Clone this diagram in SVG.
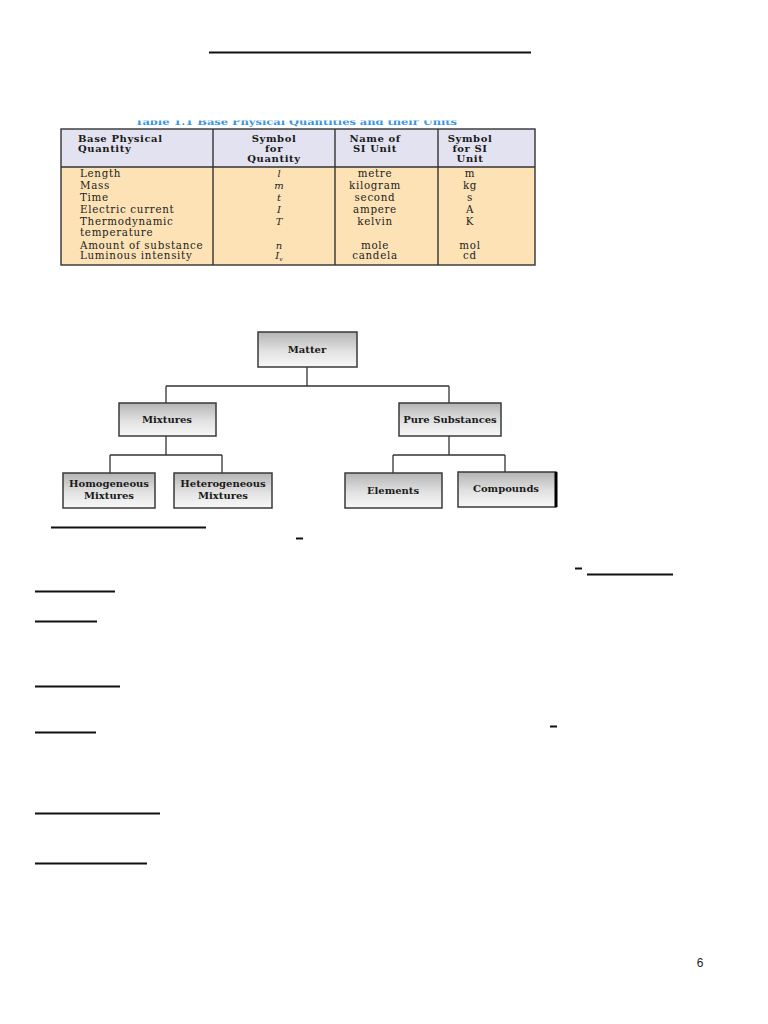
<svg xmlns="http://www.w3.org/2000/svg" width="768" height="1024" viewBox="0 0 768 1024">
<style>
.th{font-family:"DejaVu Serif","Liberation Serif",serif;font-weight:bold;font-size:10px;fill:#1a1a1a;letter-spacing:0.6px}
.td{font-family:"DejaVu Serif","Liberation Serif",serif;font-size:10.3px;fill:#222;letter-spacing:0.7px}
.ti{font-family:"DejaVu Serif","Liberation Serif",serif;font-style:italic;font-size:10px;fill:#222}
.nl{font-family:"DejaVu Serif","Liberation Serif",serif;font-weight:bold;font-size:10px;fill:#1a1a1a;text-anchor:middle}
.box{fill:url(#gg);stroke:#3a3a3a;stroke-width:1.5}
.con{stroke:#333;stroke-width:1.3;fill:none}
.ul{stroke:#111;stroke-width:2}
.grid{stroke:#333;stroke-width:1.4;fill:none}
</style>
<defs>
<linearGradient id="gg" x1="0" y1="0" x2="0" y2="1">
<stop offset="0" stop-color="#b4b4b4"/>
<stop offset="0.55" stop-color="#e2e2e2"/>
<stop offset="1" stop-color="#f8f8f8"/>
</linearGradient>
<clipPath id="tclip"><rect x="100" y="120.5" width="400" height="8"/></clipPath>
</defs>
<rect width="768" height="1024" fill="#ffffff"/>

<line class="ul" x1="209" y1="52.5" x2="531" y2="52.5"/>

<g id="table">
<text x="135" y="125" clip-path="url(#tclip)" font-family="DejaVu Serif, serif" font-weight="bold" font-size="10px" fill="#3a95e0" textLength="322" lengthAdjust="spacingAndGlyphs">Table 1.1  Base Physical Quantities and their Units</text>
<rect x="61" y="129" width="474" height="38" fill="#e2e2f0"/>
<rect x="61" y="167" width="474" height="98" fill="#fde2b6"/>
<rect class="grid" x="61" y="129" width="474" height="136"/>
<line class="grid" x1="61" y1="167" x2="535" y2="167"/>
<line class="grid" x1="213" y1="129" x2="213" y2="265"/>
<line class="grid" x1="335" y1="129" x2="335" y2="265"/>
<line class="grid" x1="438" y1="129" x2="438" y2="265"/>
<text class="th" x="78" y="142">Base Physical</text>
<text class="th" x="78" y="152">Quantity</text>
<text class="th" x="274" y="142" text-anchor="middle">Symbol</text>
<text class="th" x="274" y="152" text-anchor="middle">for</text>
<text class="th" x="274" y="162" text-anchor="middle">Quantity</text>
<text class="th" x="375" y="142" text-anchor="middle">Name of</text>
<text class="th" x="375" y="152" text-anchor="middle">SI Unit</text>
<text class="th" x="470" y="142" text-anchor="middle">Symbol</text>
<text class="th" x="470" y="152" text-anchor="middle">for SI</text>
<text class="th" x="470" y="162" text-anchor="middle">Unit</text>
<text class="td" x="80" y="177">Length</text>
<text class="td" x="80" y="189">Mass</text>
<text class="td" x="80" y="201">Time</text>
<text class="td" x="80" y="213">Electric current</text>
<text class="td" x="80" y="225">Thermodynamic</text>
<text class="td" x="80" y="236">temperature</text>
<text class="td" x="80" y="249">Amount of substance</text>
<text class="td" x="80" y="259">Luminous intensity</text>
<text class="ti" x="279" y="177" text-anchor="middle">l</text>
<text class="ti" x="279" y="189" text-anchor="middle">m</text>
<text class="ti" x="279" y="201" text-anchor="middle">t</text>
<text class="ti" x="279" y="213" text-anchor="middle">I</text>
<text class="ti" x="279" y="225" text-anchor="middle">T</text>
<text class="ti" x="279" y="249" text-anchor="middle">n</text>
<text class="ti" x="279" y="259" text-anchor="middle">I<tspan font-size="6px" dy="2">v</tspan></text>
<text class="td" x="375" y="177" text-anchor="middle">metre</text>
<text class="td" x="375" y="189" text-anchor="middle">kilogram</text>
<text class="td" x="375" y="201" text-anchor="middle">second</text>
<text class="td" x="375" y="213" text-anchor="middle">ampere</text>
<text class="td" x="375" y="225" text-anchor="middle">kelvin</text>
<text class="td" x="375" y="249" text-anchor="middle">mole</text>
<text class="td" x="375" y="259" text-anchor="middle">candela</text>
<text class="td" x="470" y="177" text-anchor="middle">m</text>
<text class="td" x="470" y="189" text-anchor="middle">kg</text>
<text class="td" x="470" y="201" text-anchor="middle">s</text>
<text class="td" x="470" y="213" text-anchor="middle">A</text>
<text class="td" x="470" y="225" text-anchor="middle">K</text>
<text class="td" x="470" y="249" text-anchor="middle">mol</text>
<text class="td" x="470" y="259" text-anchor="middle">cd</text>
</g>

<g id="connectors">
<path class="con" d="M307,367 V386 M166,386 H449 M166,386 V403 M449,386 V403"/>
<path class="con" d="M166,436 V455 M110,455 H222 M110,455 V473 M222,455 V473"/>
<path class="con" d="M449,436 V455 M393,455 H505 M393,455 V473 M505,455 V472"/>
</g>

<g id="matter"><rect class="box" x="258" y="332" width="99" height="35"/><text class="nl" x="307" y="353">Matter</text></g>
<g id="mixtures"><rect class="box" x="119" y="403" width="97" height="33"/><text class="nl" x="167" y="423">Mixtures</text></g>
<g id="pure"><rect class="box" x="399" y="403" width="102" height="33"/><text class="nl" x="450" y="423">Pure Substances</text></g>
<g id="homogeneous"><rect class="box" x="63" y="473" width="92" height="35"/><text class="nl" x="109" y="487">Homogeneous</text><text class="nl" x="109" y="499">Mixtures</text></g>
<g id="heterogeneous"><rect class="box" x="174" y="473" width="98" height="35"/><text class="nl" x="223" y="487">Heterogeneous</text><text class="nl" x="223" y="499">Mixtures</text></g>
<g id="elements"><rect class="box" x="345" y="473" width="97" height="35"/><text class="nl" x="393" y="494">Elements</text></g>
<g id="compounds"><rect class="box" x="458" y="472" width="98" height="35"/><line x1="556" y1="472" x2="556" y2="507" stroke="#000" stroke-width="3"/><text class="nl" x="506" y="492">Compounds</text></g>

<g id="underlines">
<line class="ul" x1="51" y1="527.5" x2="206" y2="527.5"/>
<line class="ul" x1="296" y1="538.5" x2="303" y2="538.5" stroke-width="1.5"/>
<line class="ul" x1="575" y1="568.5" x2="582" y2="568.5" stroke-width="1.5"/>
<line class="ul" x1="587" y1="574.5" x2="673" y2="574.5"/>
<line class="ul" x1="35" y1="591.5" x2="115" y2="591.5"/>
<line class="ul" x1="35" y1="621.5" x2="97" y2="621.5" stroke="#444"/>
<line class="ul" x1="35" y1="686.5" x2="120" y2="686.5"/>
<line class="ul" x1="550" y1="726.5" x2="557" y2="726.5" stroke-width="1.5"/>
<line class="ul" x1="35" y1="732.5" x2="96" y2="732.5" stroke="#333"/>
<line class="ul" x1="35" y1="813.5" x2="160" y2="813.5"/>
<line class="ul" x1="35" y1="863.5" x2="147" y2="863.5"/>
</g>

<text x="700" y="967" font-family="Liberation Sans, Arial, sans-serif" font-size="12px" fill="#222" text-anchor="middle">6</text>
</svg>
